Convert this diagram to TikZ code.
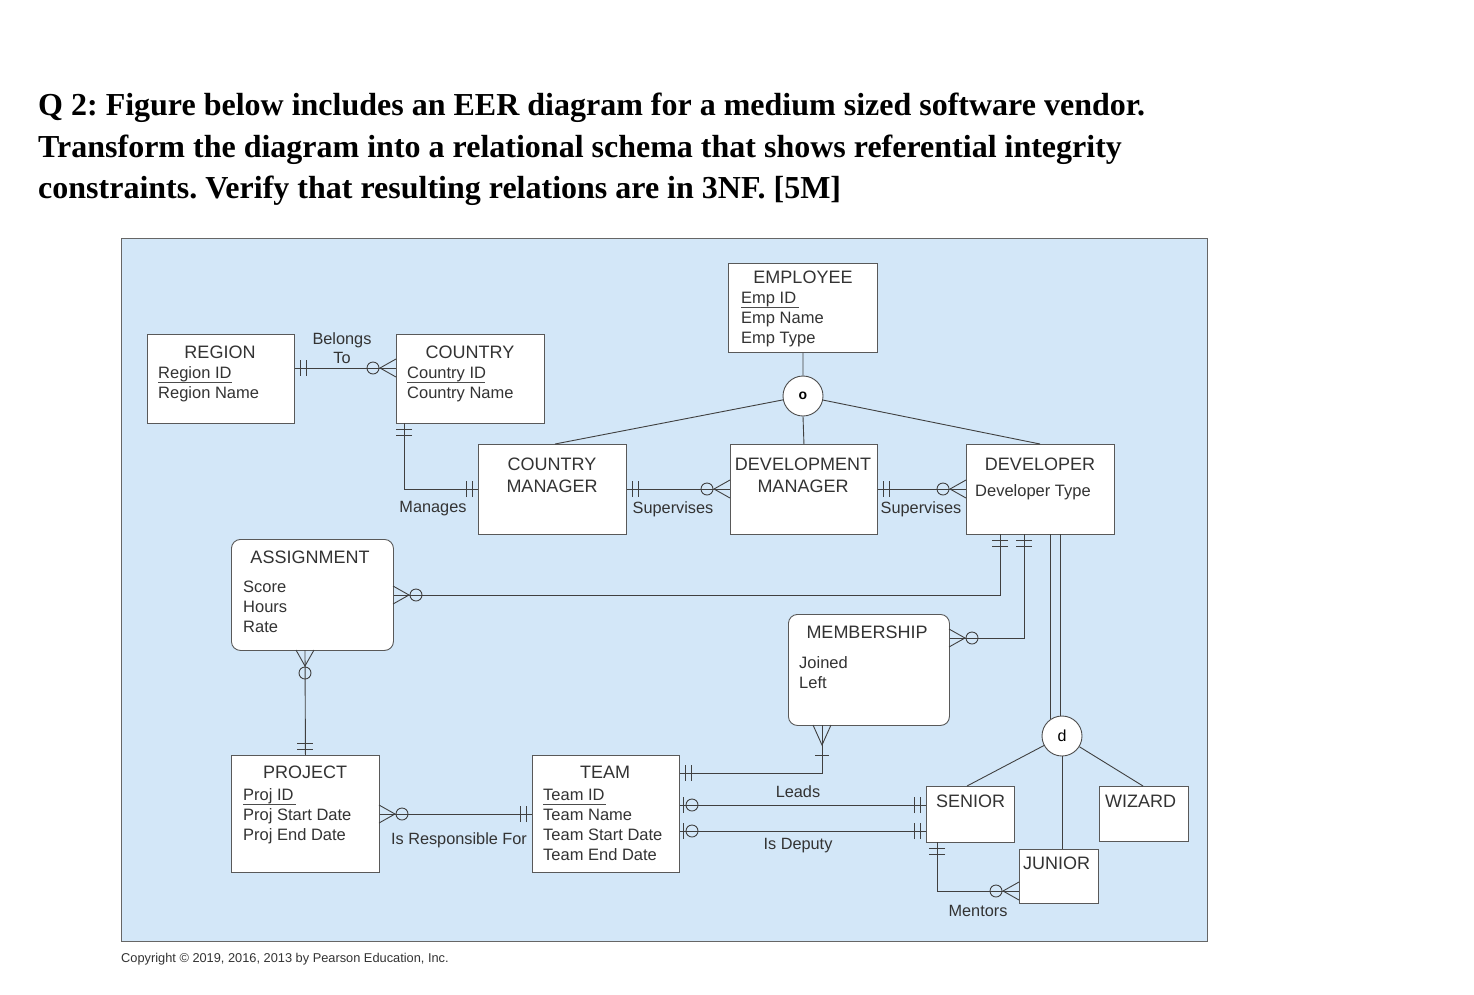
\documentclass[tikz,border=0pt]{standalone}
\usepackage{fontspec}
\setmainfont{Liberation Serif}
\newfontfamily\dsans{Liberation Sans}
\definecolor{bg}{RGB}{211,231,248}
\frenchspacing
\begin{document}
\begin{tikzpicture}[x=1pt,y=-1pt,
  ent/.style={draw=black!65,fill=white,line width=0.9pt,anchor=north west,inner sep=0pt},
  rel/.style={draw=black!75,line width=0.9pt},
  tt/.style={font=\dsans\fontsize{18}{20}\selectfont,text=black!80,inner sep=0pt,anchor=base},
  atr/.style={font=\dsans\fontsize{16.5}{18}\selectfont,text=black!80,inner sep=0pt,anchor=base west},
  lb/.style={font=\dsans\fontsize{16.3}{18}\selectfont,text=black!80,inner sep=0pt,anchor=base},
  pics/crow/.style={code={\draw[rel] (0,-9)--(16,0)--(0,9); \draw[rel] (23,0) circle (6);}},
  pics/crowonly/.style={code={\draw[rel] (0,-9)--(20,0)--(0,9);}},
  pics/bars/.style={code={\draw[rel] (6,-8)--(6,8) (12,-8)--(12,8);}},
  pics/barcirc/.style={code={\draw[rel] (4,-8)--(4,8); \draw[rel] (13,0) circle (6);}}]
\useasboundingbox (0,0) rectangle (1474,994);
\fill[white] (0,0) rectangle (1474,994);
% title
\node[anchor=base west,inner sep=0pt,font=\bfseries\fontsize{32}{40}\selectfont] (t1) at (38,115) {Q 2: Figure below includes an EER diagram for a medium sized software vendor.};
\node[anchor=base west,inner sep=0pt,font=\bfseries\fontsize{32}{40}\selectfont] (t2) at (38,157) {Transform the diagram into a relational schema that shows referential integrity};
\node[anchor=base west,inner sep=0pt,font=\bfseries\fontsize{32}{40}\selectfont] (t3) at (38,198) {constraints. Verify that resulting relations are in 3NF. [5M]};
% frame
\node[draw=black!60,fill=bg,line width=0.8pt,anchor=north west,inner sep=0pt,minimum width=1086pt,minimum height=703pt] (frame) at (121,238) {};
\node[anchor=base west,inner sep=0pt,font=\dsans\fontsize{12.8}{14}\selectfont,text=black!80] (copy) at (121,962) {Copyright \textcopyright\ 2019, 2016, 2013 by Pearson Education, Inc.};
% entities
\node[ent,minimum width=149pt,minimum height=89pt] (emp) at (728,263) {};
\node[tt] at (803,283) {EMPLOYEE};
\node[atr] at (741,303) {Emp ID}; \draw[black!70] (741,307)--(799,307);
\node[atr] at (741,323) {Emp Name};
\node[atr] at (741,343) {Emp Type};
\node[ent,minimum width=147pt,minimum height=89pt] (region) at (147,334) {};
\node[tt] at (220,358) {REGION};
\node[atr] at (158,378) {Region ID}; \draw[black!70] (158,382)--(232,382);
\node[atr] at (158,398) {Region Name};
\node[ent,minimum width=148pt,minimum height=89pt] (country) at (396,334) {};
\node[tt] at (470,358) {COUNTRY};
\node[atr] at (407,378) {Country ID}; \draw[black!70] (407,382)--(485,382);
\node[atr] at (407,398) {Country Name};
\node[ent,minimum width=148pt,minimum height=90pt] (cm) at (478,444) {};
\node[tt] at (552,470) {COUNTRY}; \node[tt] at (552,492) {MANAGER};
\node[ent,minimum width=147pt,minimum height=90pt] (dm) at (730,444) {};
\node[tt] at (803,470) {DEVELOPMENT}; \node[tt] at (803,492) {MANAGER};
\node[ent,minimum width=148pt,minimum height=90pt] (dev) at (966,444) {};
\node[tt] at (1040,470) {DEVELOPER};
\node[atr] at (975,496) {Developer Type};
\node[ent,rounded corners=9pt,minimum width=162pt,minimum height=111pt] (asg) at (231,539) {};
\node[tt] at (310,563) {ASSIGNMENT};
\node[atr] at (243,592) {Score}; \node[atr] at (243,612) {Hours}; \node[atr] at (243,632) {Rate};
\node[ent,rounded corners=9pt,minimum width=161pt,minimum height=111pt] (mem) at (788,614) {};
\node[tt] at (867,638) {MEMBERSHIP};
\node[atr] at (799,668) {Joined}; \node[atr] at (799,688) {Left};
\node[ent,minimum width=148pt,minimum height=117pt] (proj) at (231,755) {};
\node[tt] at (305,778) {PROJECT};
\node[atr] at (243,800) {Proj ID}; \draw[black!70] (243,804)--(296,804);
\node[atr] at (243,820) {Proj Start Date}; \node[atr] at (243,840) {Proj End Date};
\node[ent,minimum width=147pt,minimum height=117pt] (team) at (532,755) {};
\node[tt] at (605,778) {TEAM};
\node[atr] at (543,800) {Team ID}; \draw[black!70] (543,804)--(606,804);
\node[atr] at (543,820) {Team Name}; \node[atr] at (543,840) {Team Start Date}; \node[atr] at (543,860) {Team End Date};
\node[ent,minimum width=88pt,minimum height=56pt] (sen) at (926,786) {};
\node[tt,anchor=base west] at (936,807) {SENIOR};
\node[ent,minimum width=89pt,minimum height=55pt] (wiz) at (1099,786) {};
\node[tt,anchor=base west] at (1105,807) {WIZARD};
\node[ent,minimum width=79pt,minimum height=54pt] (jun) at (1019,849) {};
\node[tt,anchor=base west] at (1023,869) {JUNIOR};
% specialization circles
\node[draw=black!70,fill=white,line width=0.9pt,circle,minimum size=40pt,inner sep=0pt,font=\dsans\bfseries\fontsize{14}{14}\selectfont] (o) at (803,396) {o};
\node[draw=black!70,fill=white,line width=0.9pt,circle,minimum size=40pt,inner sep=0pt,font=\dsans\fontsize{16}{16}\selectfont] (d) at (1062,736) {d};
\draw[rel] (emp.south) -- (o.north);
\draw[rel] (o.south) -- (dm.north);
\draw[rel] (o) -- (555,444);
\draw[rel] (o) -- (1040,444);
\draw[rel] (1050,534) -- (1050,718.5);
\draw[rel] (1060,534) -- (1060,716);
\draw[rel] (d) -- (967,786);
\draw[rel] (d.south) -- (1062,849);
\draw[rel] (d) -- (1143,786);
% Belongs To
\draw[rel] (region.east|-0,368) -- (country.west|-0,368);
\pic at (294,368) {bars}; \pic[rotate=180] at (396,368) {crow};
\node[lb] at (342,344) {Belongs}; \node[lb] at (342,363) {To};
% Manages
\draw[rel] (404,423) -- (404,489) -- (cm.west|-0,489);
\pic[rotate=-90] at (404,423) {bars}; \pic[rotate=180] at (478,489) {bars};
\node[lb] at (433,512) {Manages};
% Supervises 1
\draw[rel] (cm.east|-0,489) -- (dm.west|-0,489);
\pic at (626,489) {bars}; \pic[rotate=180] at (730,489) {crow};
\node[lb] at (673,513) {Supervises};
% Supervises 2
\draw[rel] (dm.east|-0,489) -- (dev.west|-0,489);
\pic at (877,489) {bars}; \pic[rotate=180] at (966,489) {crow};
\node[lb] at (921,513) {Supervises};
% Assignment - Developer
\draw[rel] (asg.east|-0,595) -- (1000,595) -- (1000,534);
\pic at (393,595) {crow}; \pic[rotate=-90] at (1000,534) {bars};
% Membership - Developer
\draw[rel] (mem.east|-0,638) -- (1024,638) -- (1024,534);
\pic at (949,638) {crow}; \pic[rotate=-90] at (1024,534) {bars};
% Assignment - Project
\draw[rel] (305,650) -- (proj.north);
\pic[rotate=-90] at (305,650) {crow}; \pic[rotate=90] at (305,755) {bars};
% Project - Team
\draw[rel] (proj.east|-0,814) -- (team.west|-0,814);
\pic at (379,814) {crow}; \pic[rotate=180] at (532,814) {bars};
\node[lb] at (459,844) {Is Responsible For};
% Leads
\draw[rel] (team.east|-0,773) -- (822,773) -- (822,725);
\pic at (679,773) {bars}; \pic[rotate=-90] at (822,725) {crowonly};
\draw[rel] (815,755)--(829,755);
\node[lb] at (798,797) {Leads};
% Team - Senior
\draw[rel] (team.east|-0,805) -- (sen.west|-0,805);
\pic at (679,805) {barcirc}; \pic[rotate=180] at (926,805) {bars};
\draw[rel] (team.east|-0,831) -- (sen.west|-0,831);
\pic at (679,831) {barcirc}; \pic[rotate=180] at (926,831) {bars};
\node[lb] at (798,849) {Is Deputy};
% Mentors
\draw[rel] (937,842) -- (937,891) -- (jun.west|-0,891);
\pic[rotate=-90] at (937,842) {bars}; \pic[rotate=180] at (1019,891) {crow};
\node[lb] at (978,916) {Mentors};
\end{tikzpicture}
\end{document}
